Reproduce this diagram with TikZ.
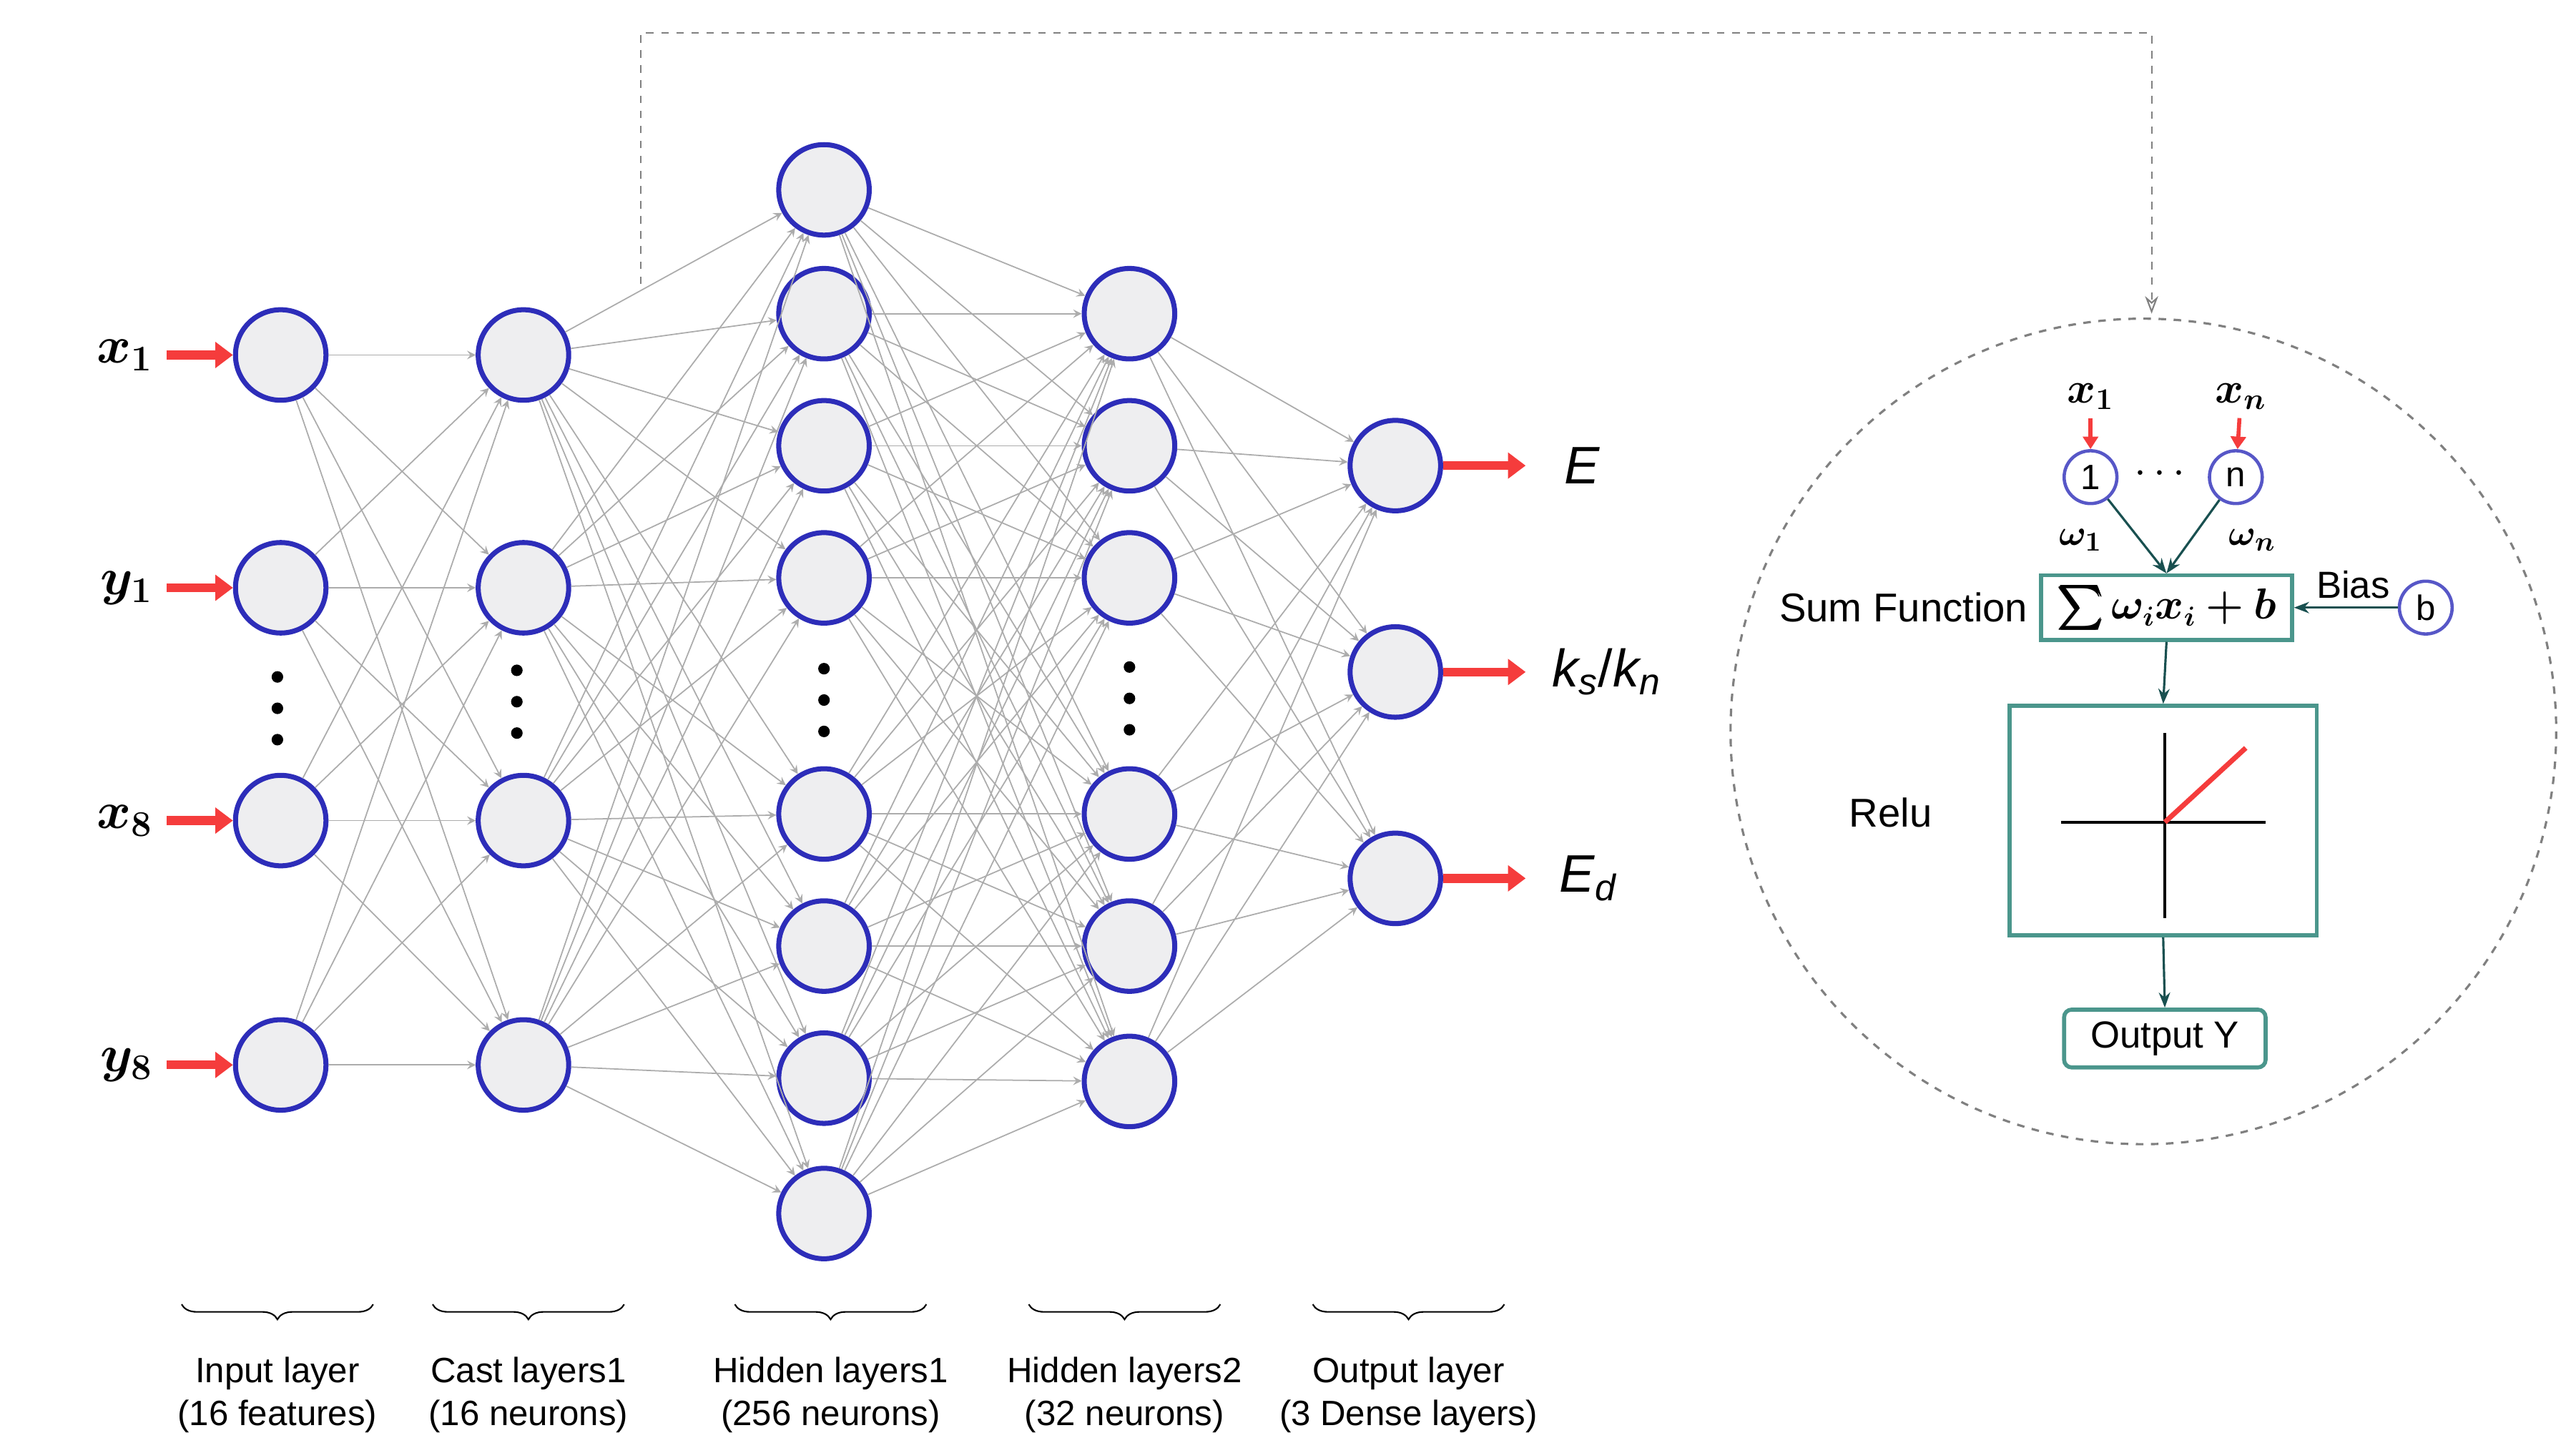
\documentclass[tikz,border=0pt]{standalone}
\usepackage{amsmath,bm}
\usepackage{fontspec}
\setmainfont{Liberation Sans}
\usetikzlibrary{arrows,arrows.meta,positioning,calc,decorations.pathreplacing}
\definecolor{nblue}{RGB}{45,45,185}
\definecolor{nfill}{RGB}{238,238,240}
\definecolor{ared}{RGB}{245,60,60}
\definecolor{tealbox}{RGB}{75,150,140}
\definecolor{tealarr}{RGB}{25,80,80}
\tikzset{>=stealth,
  neuron/.style={circle,draw=nblue,fill=nfill,line width=2pt,minimum size=36pt,inner sep=0pt},
  small/.style={circle,draw=nblue!80,line width=1.3pt,minimum size=21pt,inner sep=0pt,font=\fontsize{14}{14}\selectfont},
  link/.style={->,gray!65,line width=0.5pt},
  inarrow/.style={-{Triangle[length=7pt,width=10pt]},ared,line width=3.5pt},
  tarrow/.style={-{Stealth[length=6pt]},tealarr,line width=0.9pt},
  box/.style={draw=tealbox,line width=1.6pt},
  lab/.style={font=\fontsize{14}{17}\selectfont,align=center}}
\begin{document}
\begin{tikzpicture}[x=0.02309cm,y=-0.02309cm]
  \useasboundingbox (0,0) rectangle (1560,880);
  % layers
  \foreach \y [count=\i] in {215,356,497,645} {
    \node[neuron] (in\i) at (170,\y) {};
    \node[neuron] (c\i) at (317,\y) {};
  }
  \foreach \y [count=\i] in {115,190,270,350,493,573,653,735}
    \node[neuron] (ha\i) at (499,\y) {};
  \foreach \y [count=\i] in {190,270,350,493,573,655}
    \node[neuron] (hb\i) at (684,\y) {};
  \foreach \y [count=\i] in {282,407,532}
    \node[neuron] (o\i) at (845,\y) {};
  % connections
  \foreach \i in {1,...,4} \foreach \j in {1,...,4}
    \draw[link] (in\i) -- (c\j);
  \foreach \i in {1,...,4} \foreach \j in {1,...,8}
    \draw[link] (c\i) -- (ha\j);
  \foreach \i in {1,...,8} \foreach \j in {1,...,6}
    \draw[link] (ha\i) -- (hb\j);
  \foreach \i in {1,...,6} \foreach \j in {1,...,3}
    \draw[link] (hb\i) -- (o\j);
  % dots
  \foreach \x/\y in {168/410,313/406,499/405,684/404}
    \foreach \k in {0,1,2} \fill (\x,\y+\k*19) circle (2.3pt);
  % inputs
  \foreach \t [count=\i] in {x_1,y_1,x_8,y_8} {
    \coordinate (s\i) at ($(in\i.west)+(-40,0)$);
    \draw[inarrow] (s\i) -- (in\i.west);
    \node[left=2pt of s\i,font=\fontsize{20}{20}\selectfont] {$\bm{\t}$};
  }
  % outputs
  \foreach \t [count=\i] in {E,k_s/k_n,E_d} {
    \coordinate (e\i) at ($(o\i.east)+(50,0)$);
    \draw[inarrow] (o\i.east) -- (e\i);
  }
  \node[right=12pt of e1,font=\fontsize{21}{21}\selectfont] {\textit{E}};
  \node[right=7pt of e2,font=\fontsize{21}{21}\selectfont] {\textit{k\textsubscript{s}}/\textit{k\textsubscript{n}}};
  \node[right=10pt of e3,font=\fontsize{21}{21}\selectfont] {\textit{E\textsubscript{d}}};
  % braces and captions
  \foreach \x/\t in {168/{Input layer\\(16 features)},320/{Cast layers1\\(16 neurons)},503/{Hidden layers1\\(256 neurons)},681/{Hidden layers2\\(32 neurons)},853/{Output layer\\(3 Dense layers)}} {
    \draw[decorate,decoration={brace,mirror,amplitude=6pt},line width=0.6pt] (\x-58,790) -- (\x+58,790);
    \node[lab] at (\x,845) {\t};
  }
  % feedback
  \coordinate (fb) at (388,172);
  \coordinate (zoom) at (1303,190);
  \draw[dashed,gray,line width=0.6pt,-{Stealth[open,length=7pt]}] (fb) |- (1303,20) -- (zoom);
  % neuron detail
  \draw[dashed,gray,line width=0.9pt] (1298,443) circle [radius=250];
  \node[small] (n1) at (1266,289) {1};
  \node[small] (nn) at (1354,289) {n};
  \node[font=\fontsize{16}{16}\selectfont] at (1310,287) {$\cdots$};
  \node[font=\fontsize{18}{18}\selectfont] (lx1) at (1266,240) {$\bm{x_1}$};
  \node[font=\fontsize{18}{18}\selectfont] (lxn) at (1357,240) {$\bm{x_n}$};
  \draw[-{Triangle[length=5pt,width=6pt]},ared,line width=1.6pt] (lx1) -- (n1);
  \draw[-{Triangle[length=5pt,width=6pt]},ared,line width=1.6pt] (lxn) -- (nn);
  \node[box,minimum width=152*0.02309cm,minimum height=39*0.02309cm,font=\fontsize{16}{16}\selectfont] (sum) at (1312,368) {$\bm{\textstyle\sum\omega_i x_i+b}$};
  \draw[tarrow] (n1) -- (sum.north);
  \draw[tarrow] (nn) -- (sum.north);
  \node[font=\fontsize{15}{15}\selectfont] at (1260,327) {$\bm{\omega_1}$};
  \node[font=\fontsize{15}{15}\selectfont] at (1364,327) {$\bm{\omega_n}$};
  \node[font=\fontsize{16}{16}\selectfont,left=1pt of sum] {Sum Function};
  \node[small] (b) at (1469,368) {b};
  \draw[tarrow] (b) -- (sum.east);
  \node[font=\fontsize{15}{15}\selectfont] at (1425,354) {Bias};
  \node[box,minimum width=186*0.02309cm,minimum height=139*0.02309cm] (relu) at (1310,497) {};
  \draw[tarrow] (sum.south) -- (relu.north);
  \draw[line width=1pt] (1248,498) -- (1372,498);
  \draw[line width=1pt] (1311,444) -- (1311,556);
  \draw[ared,line width=2pt] (1311,498) -- (1360,453);
  \node[font=\fontsize{16}{16}\selectfont] at (1145,492) {Relu};
  \node[box,rounded corners=3pt,minimum width=122*0.02309cm,minimum height=35*0.02309cm,font=\fontsize{15}{15}\selectfont] (out) at (1311,629) {Output Y};
  \draw[tarrow] (relu.south) -- (out.north);
\end{tikzpicture}
\end{document}
